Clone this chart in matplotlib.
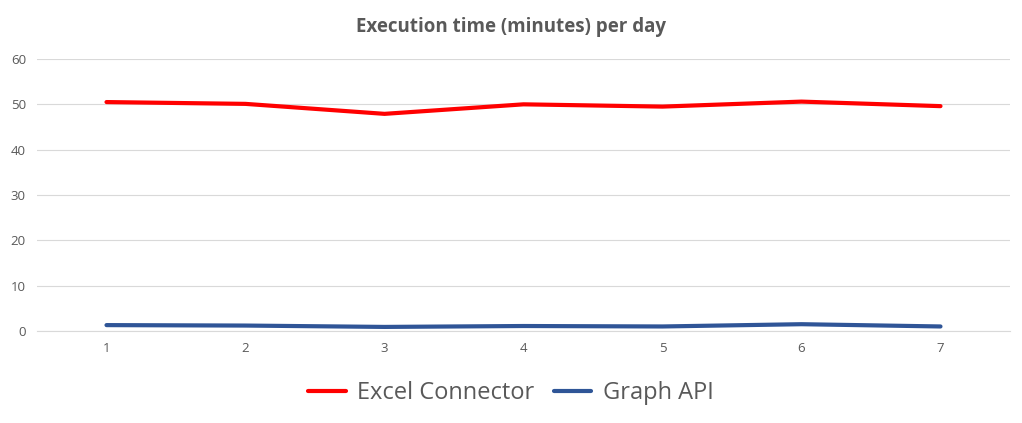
import matplotlib
matplotlib.use("Agg")
import matplotlib.pyplot as plt

days = [1, 2, 3, 4, 5, 6, 7]
excel_connector = [50.5, 50.1, 47.9, 50.0, 49.5, 50.6, 49.6]
graph_api = [1.3, 1.2, 0.9, 1.1, 1.0, 1.5, 1.0]
yticks = [0, 10, 20, 30, 40, 50, 60]

plt.rcParams['font.family'] = ['Open Sans', 'DejaVu Sans']
fig = plt.figure(figsize=(10.22, 4.23), dpi=100)
ax = fig.add_axes([37/1022, 1-331/423, (1010-37)/1022, (331-59)/423])
ax.plot(days, excel_connector, color='#FF0000', lw=3.0, label='Excel Connector', solid_capstyle='round')
ax.plot(days, graph_api, color='#2F5597', lw=3.0, label='Graph API', solid_capstyle='round')
ax.set_xlim(0.5, 7.5)
ax.set_ylim(0, 60)
ax.set_xticks(days)
ax.set_yticks(yticks)
ax.grid(axis='y', color='#D9D9D9', lw=0.8)
ax.set_axisbelow(True)
for s in ['top', 'right', 'left']:
    ax.spines[s].set_visible(False)
ax.spines['bottom'].set_color('#D9D9D9')
ax.tick_params(length=0, labelsize=9.5, labelcolor='#595959', pad=8)
fig.text(0.5, 0.935, 'Execution time (minutes) per day', ha='center', va='center',
         fontsize=13.5, fontweight='bold', color='#595959')
fig.legend(loc='center', bbox_to_anchor=(0.5, 0.07), ncol=2, frameon=False,
           fontsize=17, labelcolor='#595959', handlelength=1.6, columnspacing=0.8,
           handletextpad=0.5)
fig.savefig('out.png')
